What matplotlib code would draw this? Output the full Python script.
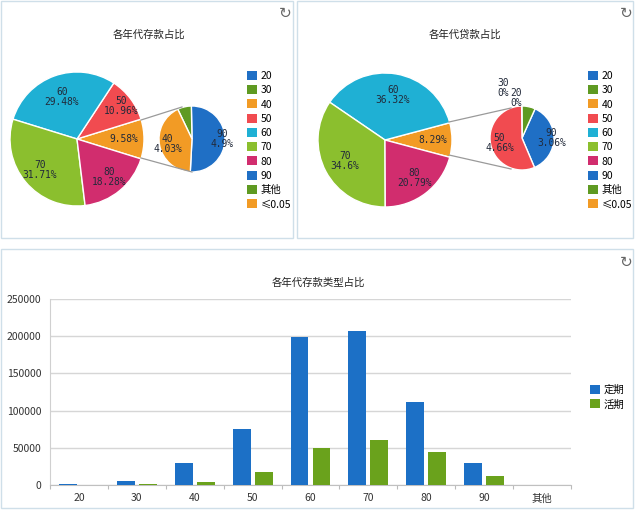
import matplotlib
matplotlib.use("Agg")
import matplotlib.pyplot as plt
from matplotlib.patches import Rectangle, Patch
import numpy as np

plt.rcParams['font.family'] = ['Noto Sans CJK SC', 'DejaVu Sans']

# ---------------- data ----------------
legend_labels = ['20', '30', '40', '50', '60', '70', '80', '90', '其他', '≤0.05']

# deposit pie (main) -- counter-clockwise order starting at the grouped slice
dep_main_labels = ['≤0.05', '50', '60', '70', '80']
dep_main_values = [9.58, 10.96, 29.48, 31.71, 18.28]
dep_sub_labels = ['90', '其他', '40']
dep_sub_values = [4.90, 0.65, 4.03]

# loan pie (main)
loan_main_labels = ['≤0.05', '60', '70', '80']
loan_main_values = [8.29, 36.32, 34.60, 20.79]
loan_sub_labels = ['90', '其他', '20', '30', '50']
loan_sub_values = [3.06, 0.57, 0.0, 0.0, 4.66]

# bar chart
bar_categories = ['20', '30', '40', '50', '60', '70', '80', '90', '其他']
fixed_deposit = [700, 5000, 30000, 75000, 198500, 207000, 111000, 29500, 600]
demand_deposit = [400, 1200, 4500, 18000, 50000, 60000, 44000, 11500, 400]

# ---------------- styles ----------------
colors = {
    '20': '#1f6fc5', '30': '#5f9a22', '40': '#f29b25', '50': '#f14b50',
    '60': '#1fb0d4', '70': '#8bbf2e', '80': '#d12d6e', '90': '#1f6fc5',
    '其他': '#5f9a22', '≤0.05': '#f29b25',
}
W, H = 640, 511
fig = plt.figure(figsize=(W / 100, H / 100), dpi=100)
ov = fig.add_axes([0, 0, 1, 1])
ov.set_zorder(0)


def Y(y):
    return H - y


mono = 'DejaVu Sans Mono'
label_color = '#222a3a'


def draw_pie(labels, values, center, radius, start):
    wedges, _ = ov.pie(values, colors=[colors[l] for l in labels], startangle=start,
                       counterclock=True, center=center, radius=radius,
                       wedgeprops=dict(edgecolor='white', linewidth=1.0))
    return wedges


def place_labels(wedges, labels, values, center, radius, rfac, skip=(), single=()):
    for w, lab, v in zip(wedges, labels, values):
        if lab in skip:
            continue
        mid = np.deg2rad((w.theta1 + w.theta2) / 2)
        r = radius * rfac.get(lab, 0.7)
        x = center[0] + r * np.cos(mid)
        y = center[1] + r * np.sin(mid)
        txt = f"{v:g}%" if lab in single else f"{lab}\n{v:g}%"
        ov.text(x, y, txt, ha='center', va='center', fontsize=6.9, family=mono,
                color=label_color, linespacing=1.0, zorder=5)


# ---- deposit pies ----
c1 = (77, Y(139)); r1 = 67
w1 = draw_pie(dep_main_labels, dep_main_values, c1, r1, -dep_main_values[0] * 3.6 / 2)
place_labels(w1, dep_main_labels, dep_main_values, c1, r1,
             {'50': 0.82, '≤0.05': 0.7, '60': 0.67, '70': 0.72, '80': 0.74},
             single=('≤0.05',))
c1s = (192, Y(139)); r1s = 33
w1s = draw_pie(dep_sub_labels, dep_sub_values, c1s, r1s, -93)
place_labels(w1s, dep_sub_labels, dep_sub_values, c1s, r1s,
             {'90': 0.92, '40': 0.75}, skip=('其他',))
ov.plot([141, 182], [Y(120), Y(107)], color='#9a9a9a', lw=0.9, zorder=1)
ov.plot([141, 192], [Y(158), Y(172)], color='#9a9a9a', lw=0.9, zorder=1)

# ---- loan pies ----
c2 = (385, Y(140)); r2 = 67
w2 = draw_pie(loan_main_labels, loan_main_values, c2, r2, -loan_main_values[0] * 3.6 / 2)
place_labels(w2, loan_main_labels, loan_main_values, c2, r2,
             {'≤0.05': 0.72, '60': 0.68, '70': 0.68, '80': 0.72},
             single=('≤0.05',))
c2s = (522, Y(138)); r2s = 32
w2s = draw_pie(loan_sub_labels, loan_sub_values, c2s, r2s, -67)
place_labels(w2s, loan_sub_labels, loan_sub_values, c2s, r2s,
             {'90': 0.92, '50': 0.72}, skip=('其他', '20', '30'))
ov.text(503, Y(88), "30\n0%", ha='center', va='center', fontsize=6.9, family=mono,
        color=label_color, linespacing=1.0)
ov.text(516, Y(98), "20\n0%", ha='center', va='center', fontsize=6.9, family=mono,
        color=label_color, linespacing=1.0)
ov.plot([449, 511], [Y(122), Y(108)], color='#9a9a9a', lw=0.9, zorder=1)
ov.plot([449, 511], [Y(155), Y(169)], color='#9a9a9a', lw=0.9, zorder=1)

# ---- panel borders, titles, icons ----
border = '#cfdfe9'
for (x0, y0, x1, y1) in [(0.5, 1, 293, 238), (297, 1, 633, 238), (0.5, 249, 633, 508)]:
    ov.add_patch(Rectangle((x0, Y(y1)), x1 - x0, y1 - y0, fill=False,
                           edgecolor=border, lw=1.0, zorder=0))
ov.text(149, Y(35), '各年代存款占比', ha='center', va='center', fontsize=7.5, color='#222')
ov.text(465, Y(35), '各年代贷款占比', ha='center', va='center', fontsize=7.5, color='#222')
ov.text(318, Y(283), '各年代存款类型占比', ha='center', va='center', fontsize=7.5, color='#222')
for (x, y) in [(285, 13), (626, 13), (626, 262)]:
    ov.text(x, Y(y), '↻', ha='center', va='center', fontsize=11, color='#666',
            family='DejaVu Sans')

# ---- pie legends ----
leg_kw = dict(loc='upper left', bbox_transform=ov.transData, frameon=False,
              fontsize=7.5, handlelength=0.95, handleheight=0.95,
              handletextpad=0.35, labelspacing=0.4, borderpad=0, borderaxespad=0)
h1 = [Patch(facecolor=colors[l], edgecolor='none') for l in legend_labels]
leg1 = ov.legend(h1, legend_labels, bbox_to_anchor=(247, Y(71)), **leg_kw)
ov.add_artist(leg1)
h2 = [Patch(facecolor=colors[l], edgecolor='none') for l in legend_labels]
ov.legend(h2, legend_labels, bbox_to_anchor=(588, Y(71)), **leg_kw)

ov.set_xlim(0, W)
ov.set_ylim(0, H)
ov.set_aspect('auto')
ov.axis('off')

# ---------------- bar chart ----------------
bx = fig.add_axes([50 / W, (H - 485) / H, (571 - 50) / W, (485 - 299) / H])
x = np.arange(len(bar_categories))
bw = 0.31
bx.bar(x - 0.19, fixed_deposit, bw, color='#1c70c6', label='定期', zorder=3)
bx.bar(x + 0.19, demand_deposit, bw, color='#6aa21c', label='活期', zorder=3)
bx.set_xlim(-0.5, len(bar_categories) - 0.5)
bx.set_ylim(0, 250000)
bx.set_yticks(np.arange(0, 250001, 50000))
bx.set_xticks(x)
bx.set_xticklabels(bar_categories)
bx.set_xticks(np.arange(-0.5, len(bar_categories), 1), minor=True)
bx.tick_params(axis='x', which='major', length=0, pad=6, labelsize=7.5, labelcolor='#333')
bx.tick_params(axis='x', which='minor', length=3, color='#bbbbbb', width=0.8)
bx.tick_params(axis='y', length=0, pad=6, labelsize=7.5, labelcolor='#333')
bx.yaxis.grid(True, color='#d6d6d6', lw=1.0, zorder=0)
for s in ('top', 'right'):
    bx.spines[s].set_visible(False)
bx.spines['left'].set_color('#d0d0d0')
bx.spines['bottom'].set_color('#c0c0c0')
bx.set_facecolor('none')
bx.legend(loc='upper left', bbox_to_anchor=(590 / W, Y(385) / H),
          bbox_transform=fig.transFigure, frameon=False, fontsize=7.5,
          handlelength=0.95, handleheight=0.95, handletextpad=0.35,
          labelspacing=0.4, borderpad=0, borderaxespad=0)

fig.savefig('out.png', dpi=100, facecolor='white')
